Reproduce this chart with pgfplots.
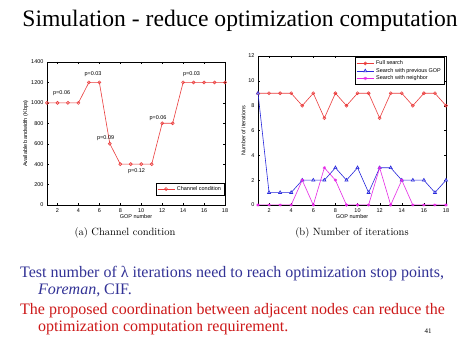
\documentclass[border=0pt]{standalone}
\usepackage{fontspec}
\usepackage{pgfplots}
\pgfplotsset{compat=1.18}
\newfontfamily\timesf{Liberation Serif}
\newfontfamily\arialf{Liberation Sans}
\definecolor{lred}{RGB}{235,60,60}
\definecolor{lblue}{RGB}{40,40,220}
\definecolor{lmag}{RGB}{230,40,230}
\definecolor{txtblue}{RGB}{50,50,150}
\definecolor{txtred}{RGB}{205,25,25}
\begin{document}
\begin{tikzpicture}
\path[fill=white] (0pt,0pt) rectangle (474pt,-355pt);
\node[anchor=center,font=\timesf\fontsize{23.6}{27}\selectfont] at (240pt,-21pt) {Simulation - reduce optimization computation};
\pgfplotsset{
  mystyle/.style={
    scale only axis,
    font=\arialf\fontsize{5.5}{6.5}\selectfont,
    tick label style={font=\arialf\fontsize{5.5}{6.5}\selectfont},
    /pgf/number format/assume math mode=true,
    /pgf/number format/set thousands separator={},
    tick align=inside,
    xmin=1,xmax=18,
    xtick={2,4,...,18},
    xlabel={GOP number},
    xlabel style={yshift=5pt},
    ylabel style={yshift=-4pt},
    axis line style={line width=0.4pt},
    every tick/.style={black,line width=0.3pt},
    major tick length=2pt,
    legend cell align=left,
    legend style={font=\arialf\fontsize{5.5}{6.5}\selectfont,inner sep=1pt,row sep=-2pt},
  }
}
\begin{axis}[mystyle,
  at={(47pt,-205pt)},anchor=south west,width=178pt,height=143pt,
  ymin=0,ymax=1400,ytick={0,200,...,1400},
  ylabel={Available bandwidth (Kbps)},
  legend style={at={(0.995,0.07)},anchor=south east},
]
\addplot[lred,line width=0.6pt,mark=o,mark size=1.5pt,mark options={fill=lred!35}] coordinates {
(1,1000)(2,1000)(3,1000)(4,1000)(5,1200)(6,1200)(7,600)(8,400)(9,400)(10,400)(11,400)(12,800)(13,800)(14,1200)(15,1200)(16,1200)(17,1200)(18,1200)};
\addlegendentry{Channel condition}
\node[font=\arialf\fontsize{5.5}{6.5}\selectfont] at (axis cs:2.4,1096) {p=0.06};
\node[font=\arialf\fontsize{5.5}{6.5}\selectfont] at (axis cs:5.4,1280) {p=0.03};
\node[font=\arialf\fontsize{5.5}{6.5}\selectfont] at (axis cs:6.6,656) {p=0.09};
\node[font=\arialf\fontsize{5.5}{6.5}\selectfont] at (axis cs:9.55,335) {p=0.12};
\node[font=\arialf\fontsize{5.5}{6.5}\selectfont] at (axis cs:11.6,855) {p=0.06};
\node[font=\arialf\fontsize{5.5}{6.5}\selectfont] at (axis cs:14.8,1280) {p=0.03};
\end{axis}
\begin{axis}[mystyle,
  at={(258pt,-205pt)},anchor=south west,width=188pt,height=149pt,
  ymin=0,ymax=12,ytick={0,2,...,12},
  ylabel={Number of iterations},
  legend style={at={(0.99,0.99)},anchor=north east},
]
\addplot[lred,line width=0.6pt,mark=o,mark size=1.5pt,mark options={fill=lred!35}] coordinates {
(1,9)(2,9)(3,9)(4,9)(5,8)(6,9)(7,7)(8,9)(9,8)(10,9)(11,9)(12,7)(13,9)(14,9)(15,8)(16,9)(17,9)(18,8)};
\addlegendentry{Full search}
\addplot[lblue,line width=0.6pt,mark=triangle*,mark size=1.8pt,mark options={fill=lblue!30}] coordinates {
(1,9)(2,1)(3,1)(4,1)(5,2)(6,2)(7,2)(8,3)(9,2)(10,3)(11,1)(12,3)(13,3)(14,2)(15,2)(16,2)(17,1)(18,2)};
\addlegendentry{Search with previous GOP}
\addplot[lmag,line width=0.6pt,mark=asterisk,mark size=1.6pt] coordinates {
(1,0)(2,0)(3,0)(4,0)(5,2)(6,0)(7,3)(8,2)(9,0)(10,0)(11,0)(12,3)(13,0)(14,2)(15,0)(16,0)(17,0)(18,0)};
\addlegendentry{Search with neighbor}
\end{axis}
\node[font=\fontsize{10.5}{12}\selectfont] at (125pt,-233pt) {(a) Channel condition};
\node[font=\fontsize{10.5}{12}\selectfont] at (352pt,-233pt) {(b) Number of iterations};
\begin{scope}[font=\timesf\fontsize{16}{18}\selectfont]
\node[anchor=base west,inner sep=0pt,text=txtblue] at (20pt,-278pt) {Test number of λ iterations need to reach optimization stop points,};
\node[anchor=base west,inner sep=0pt,text=txtblue] at (38pt,-295pt) {\textit{Foreman}, CIF.};
\node[anchor=base west,inner sep=0pt,text=txtred] at (20pt,-315pt) {The proposed coordination between adjacent nodes can reduce the};
\node[anchor=base west,inner sep=0pt,text=txtred] at (38pt,-332pt) {optimization computation requirement.};
\end{scope}
\node[anchor=base,font=\timesf\fontsize{7}{8}\selectfont] at (428pt,-334pt) {41};
\end{tikzpicture}
\end{document}
